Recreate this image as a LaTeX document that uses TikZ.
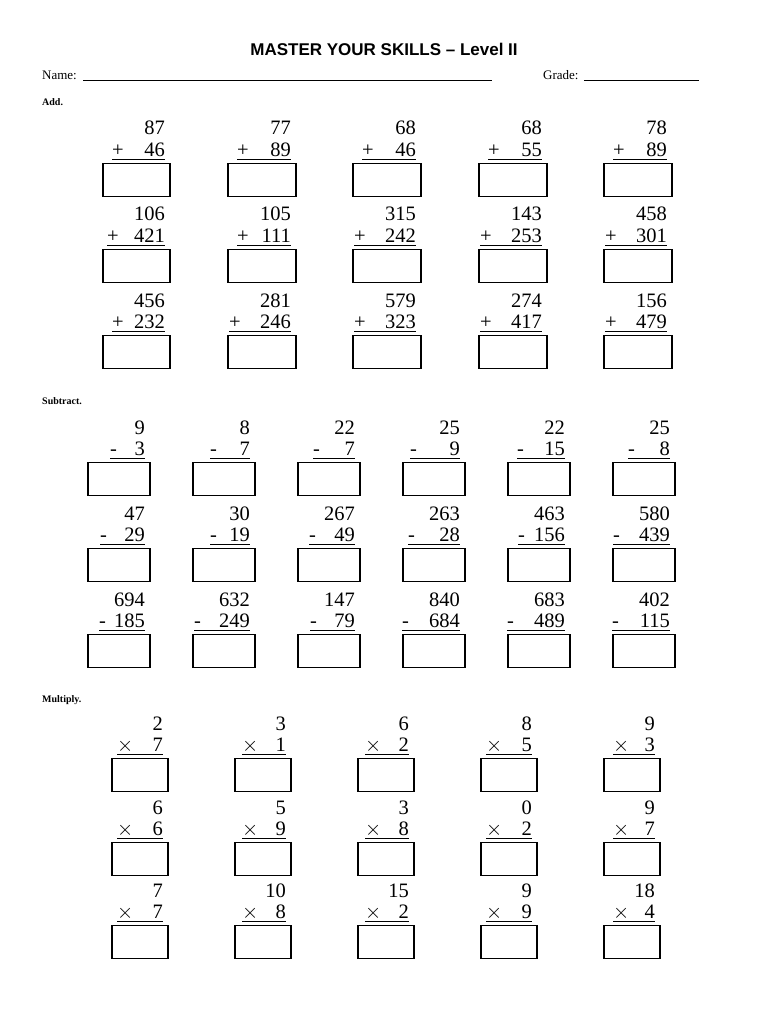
\documentclass[tikz,border=0pt]{standalone}
\usepackage{fontspec}
\setmainfont{Liberation Serif}
\newfontfamily\titlefont{Liberation Sans}
\newcommand{\prb}[8]{% name, boxL, boxR, ytop, a, op, b, opoffset
  \node[num,anchor=base east] (#1a) at (#3-5,#4) {#5};
  \node[num,anchor=base east] (#1b) at (#3-5,#4+21.5) {#7};
  \node[num,anchor=base west] (#1o) at (#2+#8-3,#4+21.5) {#6};
  \draw (#1o.west |- 0,#4+24.5) -- (#1b.east |- 0,#4+24.5);
  \node[ansbox,minimum width={(#3-#2)*1pt}] (#1x) at ({(#2+#3)/2},#4+45) {};
}
\begin{document}
\begin{tikzpicture}[x=1pt,y=-1pt,
  num/.style={inner sep=0pt,font=\fontsize{20.5}{20.5}\selectfont},
  ansbox/.style={draw,line width=1.3pt,minimum height=33pt,inner sep=0pt},
  sec/.style={anchor=base west,inner sep=0pt,font=\bfseries\fontsize{10}{10}\selectfont}]
\useasboundingbox (0,0) rectangle (768,1024);
\node[font=\titlefont\bfseries\fontsize{17}{17}\selectfont,anchor=base] (title) at (384,56) {MASTER YOUR SKILLS – Level II};
\node[anchor=base west,inner sep=0pt,font=\fontsize{13}{13}\selectfont] (name) at (42,80) {Name:};
\draw (name.base east)++(6,0) coordinate (n1) -- (492,80) coordinate (n2);
\node[anchor=base west,inner sep=0pt,font=\fontsize{13}{13}\selectfont] (grade) at (543,80) {Grade:};
\draw (grade.base east)++(5,0) coordinate (g1) -- (699,80) coordinate (g2);
\node[sec] (add) at (42,106) {Add.};
\node[sec] (sub) at (42,404) {Subtract.};
\node[sec] (mul) at (42,702) {Multiply.};
% Add
\prb{a1}{103}{170}{135}{87}{+}{46}{12}
\prb{a2}{228}{296}{135}{77}{+}{89}{12}
\prb{a3}{353}{421}{135}{68}{+}{46}{12}
\prb{a4}{479}{547}{135}{68}{+}{55}{12}
\prb{a5}{604}{672}{135}{78}{+}{89}{12}
\prb{a6}{103}{170}{221}{106}{+}{421}{7}
\prb{a7}{228}{296}{221}{105}{+}{111}{12}
\prb{a8}{353}{421}{221}{315}{+}{242}{4}
\prb{a9}{479}{547}{221}{143}{+}{253}{4}
\prb{a10}{604}{672}{221}{458}{+}{301}{4}
\prb{a11}{103}{170}{307}{456}{+}{232}{12}
\prb{a12}{228}{296}{307}{281}{+}{246}{4}
\prb{a13}{353}{421}{307}{579}{+}{323}{4}
\prb{a14}{479}{547}{307}{274}{+}{417}{4}
\prb{a15}{604}{672}{307}{156}{+}{479}{4}
% Subtract
\prb{s1}{88}{150}{434}{9}{-}{3}{25}
\prb{s2}{193}{255}{434}{8}{-}{7}{20}
\prb{s3}{298}{360}{434}{22}{-}{7}{18}
\prb{s4}{403}{465}{434}{25}{-}{9}{10}
\prb{s5}{508}{570}{434}{22}{-}{15}{12}
\prb{s6}{613}{675}{434}{25}{-}{8}{18}
\prb{s7}{88}{150}{520}{47}{-}{29}{15}
\prb{s8}{193}{255}{520}{30}{-}{19}{20}
\prb{s9}{298}{360}{520}{267}{-}{49}{14}
\prb{s10}{403}{465}{520}{263}{-}{28}{8}
\prb{s11}{508}{570}{520}{463}{-}{156}{13}
\prb{s12}{613}{675}{520}{580}{-}{439}{3}
\prb{s13}{88}{150}{606}{694}{-}{185}{14}
\prb{s14}{193}{255}{606}{632}{-}{249}{4}
\prb{s15}{298}{360}{606}{147}{-}{79}{15}
\prb{s16}{403}{465}{606}{840}{-}{684}{2}
\prb{s17}{508}{570}{606}{683}{-}{489}{2}
\prb{s18}{613}{675}{606}{402}{-}{115}{2}
% Multiply
\prb{m1}{112}{168}{730}{2}{$\times$}{7}{8}
\prb{m2}{235}{291}{730}{3}{$\times$}{1}{10}
\prb{m3}{358}{414}{730}{6}{$\times$}{2}{10}
\prb{m4}{481}{537}{730}{8}{$\times$}{5}{8}
\prb{m5}{604}{660}{730}{9}{$\times$}{3}{12}
\prb{m6}{112}{168}{814}{6}{$\times$}{6}{8}
\prb{m7}{235}{291}{814}{5}{$\times$}{9}{10}
\prb{m8}{358}{414}{814}{3}{$\times$}{8}{10}
\prb{m9}{481}{537}{814}{0}{$\times$}{2}{8}
\prb{m10}{604}{660}{814}{9}{$\times$}{7}{12}
\prb{m11}{112}{168}{897}{7}{$\times$}{7}{8}
\prb{m12}{235}{291}{897}{10}{$\times$}{8}{10}
\prb{m13}{358}{414}{897}{15}{$\times$}{2}{10}
\prb{m14}{481}{537}{897}{9}{$\times$}{9}{8}
\prb{m15}{604}{660}{897}{18}{$\times$}{4}{12}
\end{tikzpicture}
\end{document}
